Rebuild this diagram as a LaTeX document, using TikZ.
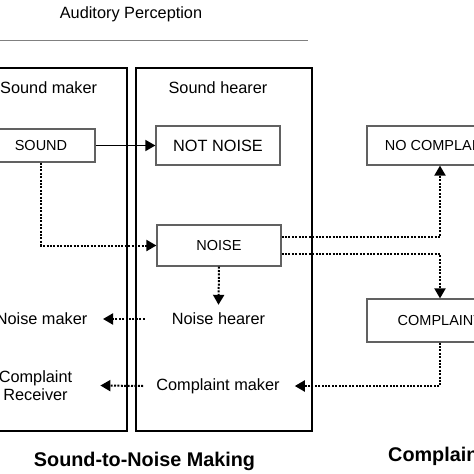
\documentclass[tikz,border=0pt]{standalone}
\usepackage{fontspec}
\setmainfont{Liberation Sans}
\usetikzlibrary{arrows.meta}
\tikzset{
  txt/.style={inner sep=0pt, font=\fontsize{16.3}{18.6}\selectfont},
  gbox/.style={draw=black!62, line width=1.2pt, inner sep=0pt, font=\fontsize{14.5}{17}\selectfont},
  frame/.style={draw=black, line width=2pt},
  tip/.style={-{Triangle[length=10pt,width=11pt]}},
  solidarrow/.style={tip, line width=1.5pt},
  dotarrow/.style={tip, line width=2pt, dash pattern=on 2pt off 1.4pt},
  title/.style={inner sep=0pt, font=\bfseries\fontsize{19.8}{22}\selectfont}
}
\begin{document}
\begin{tikzpicture}[x=1pt,y=-1pt]
\useasboundingbox (0,0) rectangle (474,474);
\clip (0,0) rectangle (474,474);
\fill[white] (0,0) rectangle (474,474);

% header
\node[txt, anchor=base] (audit) at (131,18.5) {Auditory Perception};
\draw[black!50, line width=1pt] (0,40) -- (308,40);

% frames
\draw[frame] (-20,68) rectangle (127,431);
\draw[frame] (136,68) rectangle (312,431);

\node[txt, anchor=base west] (smaker) at (0,93.3) {Sound maker};
\node[txt, anchor=base] (shearer) at (218,93.3) {Sound hearer};

% boxes
\node[gbox, minimum width=108pt, minimum height=33pt] (sound) at (41,145.5) {SOUND};
\node[gbox, minimum width=124pt, minimum height=39pt, font=\fontsize{16.3}{18}\selectfont] (notnoise) at (218,145.5) {NOT NOISE};
\node[gbox, minimum width=124pt, minimum height=41pt] (noise) at (219,245.5) {NOISE};
\node[gbox, minimum width=146pt, minimum height=39pt] (nocomp) at (440,145.5) {NO COMPLAINT};
\node[gbox, minimum width=146pt, minimum height=43pt] (comp) at (440,320.5) {COMPLAINT};

% plain texts
\node[txt] (nhearer) at (218.5,319) {Noise hearer};
\node[txt, anchor=east] (nmaker) at (87.5,319) {Noise maker};
\node[txt] (cmaker) at (218,386) {Complaint maker};
\node[txt, align=center] (creceiver) at (35.5,385.5) {Complaint\\Receiver};

% connectors
\draw[solidarrow] (sound.east) -- (notnoise.west);
\draw[dotarrow] (sound) |- (noise);
\draw[dotarrow] ([yshift=8.5pt]noise.east) -| (nocomp.south);
\draw[dotarrow] ([yshift=-8.5pt]noise.east) -| (comp.north);
\draw[dotarrow] (noise.south) -- ([yshift=8pt]nhearer.north);
\draw[dotarrow] ([xshift=-27pt]nhearer.west) -- ([xshift=15.5pt]nmaker.east);
\draw[dotarrow] (comp.south) |- ([xshift=15pt]cmaker.east);
\draw[dotarrow] ([xshift=-13pt]cmaker.west) -- ([xshift=28pt]creceiver.east);

% titles
\node[title, anchor=base] (t1) at (144.5,466) {Sound-to-Noise Making};
\node[title, anchor=base west] (t2) at (388,461.7) {Complaint Making};
\end{tikzpicture}
\end{document}
